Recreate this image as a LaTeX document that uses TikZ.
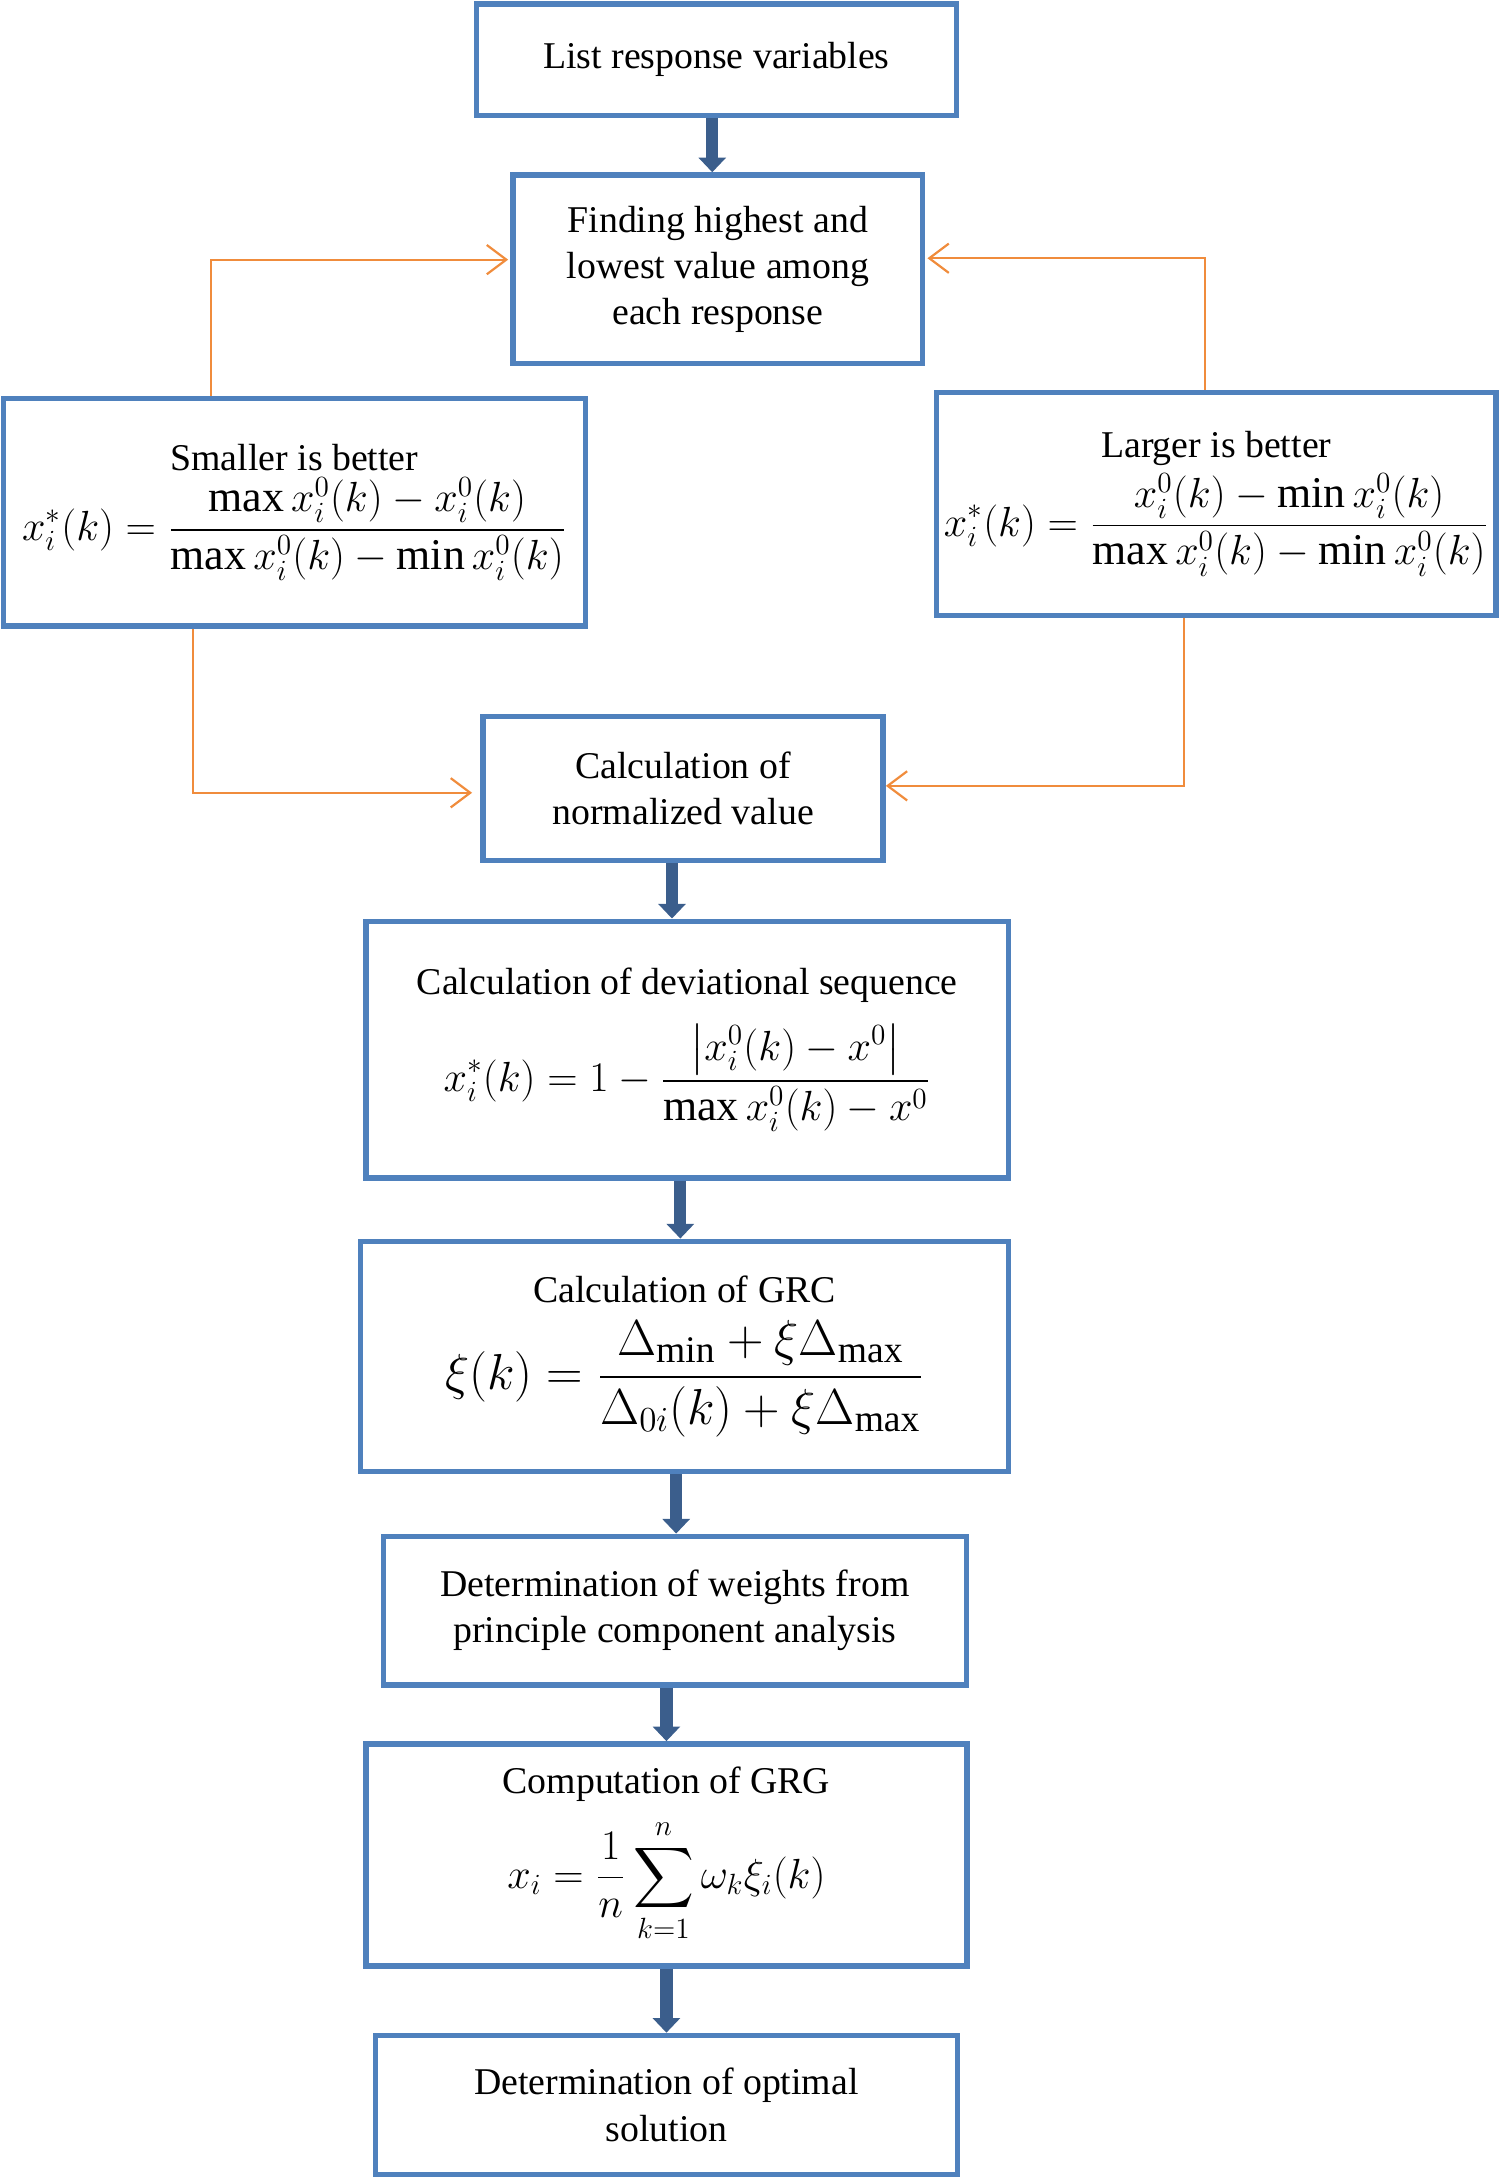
\documentclass[tikz,border=0pt]{standalone}
\usepackage{amsmath}
\usepackage{fontspec}
\setmainfont{Liberation Serif}
\usetikzlibrary{arrows.meta}
\newcommand{\mathbig}{\fontsize{18}{22}\selectfont}
\begin{document}
\begin{tikzpicture}[x=0.02cm,y=-0.02cm,
 box/.style={draw={rgb,255:red,79;green,129;blue,189}, line width=2.2pt, fill=white, align=center, font=\fontsize{15.5}{19}\selectfont, inner sep=0pt},
 flow/.style={draw={rgb,255:red,59;green,94;blue,140}, line width=5pt, -{Triangle[length=6pt,width=11pt]}},
 side/.style={draw={rgb,255:red,240;green,140;blue,60}, line width=0.9pt, -{Straight Barb[length=8pt,width=12pt]}}]
\useasboundingbox (0,0) rectangle (1080,1568);
\node[box,minimum width=346*0.02cm,minimum height=80*0.02cm] (b1) at (516,43) {List response variables};
\node[box,minimum width=295*0.02cm,minimum height=136*0.02cm] (b2) at (517,194) {Finding highest and\\lowest value among\\each response};
\node[box,minimum width=419*0.02cm,minimum height=164*0.02cm] (b3) at (212,369) {Smaller is better\\[2pt]
 {\mathbig$\displaystyle x_i^*(k)=\frac{\max x_i^0(k)-x_i^0(k)}{\max x_i^0(k)-\min x_i^0(k)}$}};
\node[box,minimum width=403*0.02cm,minimum height=161*0.02cm] (b4) at (876,363) {Larger is better\\[2pt]
 {\mathbig$\displaystyle x_i^*(k)=\frac{x_i^0(k)-\min x_i^0(k)}{\max x_i^0(k)-\min x_i^0(k)}$}};
\node[box,minimum width=288*0.02cm,minimum height=104*0.02cm] (b5) at (492,568) {Calculation of\\normalized value};
\node[box,minimum width=463*0.02cm,minimum height=185*0.02cm] (b6) at (495,756) {Calculation of deviational sequence\\[8pt]
 {\mathbig$\displaystyle x_i^*(k)=1-\frac{\left|x_i^0(k)-x^0\right|}{\max x_i^0(k)-x^0}$}};
\node[box,minimum width=467*0.02cm,minimum height=166*0.02cm] (b7) at (493,977) {Calculation of GRC\\[6pt]
 {\fontsize{22}{26}\selectfont$\displaystyle \xi(k)=\frac{\Delta_{\min}+\xi\Delta_{\max}}{\Delta_{0i}(k)+\xi\Delta_{\max}}$}};
\node[box,minimum width=420*0.02cm,minimum height=107*0.02cm] (b8) at (486,1160) {Determination of weights from\\principle component analysis};
\node[box,minimum width=433*0.02cm,minimum height=160*0.02cm] (b9) at (480,1336) {Computation of GRG\\[6pt]
 {\mathbig$\displaystyle x_i=\frac{1}{n}\sum_{k=1}^{n}\omega_k\xi_i(k)$}};
\node[box,minimum width=419*0.02cm,minimum height=100*0.02cm] (b10) at (480,1516) {Determination of optimal\\solution};
\draw[flow] (b1.south -| 513,0) -- (b2.north -| 513,0);
\draw[flow] (b5.south -| 484,0) -- (b6.north -| 484,0);
\draw[flow] (b6.south -| 490,0) -- (b7.north -| 490,0);
\draw[flow] (b7.south -| 487,0) -- (b8.north -| 487,0);
\draw[flow] (b8.south -| 480,0) -- (b9.north -| 480,0);
\draw[flow] (b9.south -| 480,0) -- (b10.north -| 480,0);
\draw[side] (b3.north -| 152,0) -- (152,187) -- (366,187);
\draw[side] (b4.north -| 868,0) -- (868,186) -- (668,186);
\draw[side] (b3.south -| 139,0) -- (139,571) -- (340,571);
\draw[side] (b4.south -| 853,0) -- (853,566) -- (638,566);
\end{tikzpicture}
\end{document}
